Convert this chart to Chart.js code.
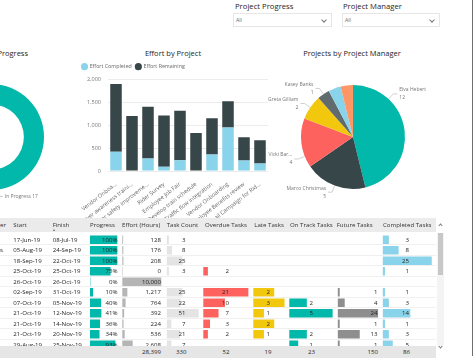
<!DOCTYPE html>
<html><head><meta charset="utf-8">
<script src="https://cdn.jsdelivr.net/npm/chart.js@4.4.1/dist/chart.umd.min.js"></script>
<style>
html,body{margin:0;padding:0;background:#fff;}
body{width:474px;height:362px;overflow:hidden;position:relative;font-family:"Open Sans",sans-serif;color:#252423;}
.t{position:absolute;white-space:nowrap;}
canvas{position:absolute;}
.box{position:absolute;border:1px solid #e6e6e6;background:#fff;box-sizing:border-box;}
.chev{position:absolute;width:3px;height:3px;border-right:1px solid #777;border-bottom:1px solid #777;transform:rotate(45deg);}
</style></head><body>
<canvas id="donut" width="140" height="132" style="left:-74px;top:72px;width:140px;height:132px"></canvas>
<canvas id="effort" width="196" height="180" style="left:78px;top:60px;width:196px;height:180px"></canvas>
<canvas id="pie" width="182" height="124" style="left:262px;top:78px;width:182px;height:124px"></canvas>
<script>
// ---------- DATA ----------
const progressStatus = ["In Progress"];
const progressProjects = [17];

const effortProjects = ["Vendor Onboa...", "Driver awareness traini...", "Rider safety improveme...", "Rider Survey", "Employee Job Fair", "Develop train schedule", "Traffic flow integration", "Vendor Onboarding", "Employee Benefits review", "Email Campaign for Rid..."];
const effortCompleted = [420, 0, 270, 95, 235, 0, 360, 950, 230, 165];
const effortRemaining = [1480, 1200, 1130, 1115, 1080, 830, 790, 570, 505, 505];
const effortTickStep = 500;
const effortMax = 2000;

const managerNames = ["Elva Hebert", "Marco Christmas", "Vicki Bar...", "Greta Gilliam", "Kasey Banks", "Other A", "Other B"];
const managerProjects = [12, 5, 4, 2, 1, 1, 1];

const startDates = ["17-Jun-19","05-Aug-19","18-Sep-19","25-Oct-19","26-Oct-19","02-Sep-19","07-Oct-19","21-Oct-19","21-Oct-19","21-Oct-19","29-Aug-19"];
const finishDates = ["08-Jul-19","24-Sep-19","22-Oct-19","25-Oct-19","26-Oct-19","31-Oct-19","05-Nov-19","12-Nov-19","14-Nov-19","20-Nov-19","25-Nov-19"];
const managerCol = ["", "s", "", "", "", "", "", "", "", "", ""];
const progressPct = [100,100,100,75,0,10,40,41,36,34,93];
const effortHours = [128,176,208,0,10000,1217,764,392,224,536,2608];
const taskCount = [3,8,25,3,null,25,22,51,7,21,7];
const overdueTasks = [null,null,null,2,null,21,10,7,3,2,null];
const lateTasks = [null,null,null,null,null,2,3,1,2,1,null];
const onTrackTasks = [null,null,null,null,null,null,2,5,null,2,1];
const futureTasks = [null,null,null,null,null,1,4,24,1,13,1];
const completedTasks = [3,8,25,1,null,1,3,14,1,3,5];
const tableHeaders = ["er","Start","Finish","Progress","Effort (Hours)","Task Count","Overdue Tasks","Late Tasks","On Track Tasks","Future Tasks","Completed Tasks"];
const totalValues = ["28,399","330","52","19","23","150","86"];

// ---------- STYLE ----------
const C = {teal:'#01B8AA', dark:'#374649', red:'#FD625E', yellow:'#F2C80F', gray:'#5F6B6D', lblue:'#8AD4EB', orange:'#FE9666'};
Chart.defaults.font.family = '"Open Sans", sans-serif';
Chart.defaults.animation = false;
Chart.defaults.devicePixelRatio = 1;

function txt(s, x, y, size, color, align, weight, z){
  const d = document.createElement('div'); d.className = 't'; d.textContent = s;
  d.style.fontSize = size + 'px'; d.style.lineHeight = '10px'; d.style.height = '10px';
  d.style.top = (y - 5) + 'px'; d.style.color = color;
  if (weight) d.style.fontWeight = weight;
  if (z) d.style.zIndex = z;
  if (align === 'right') { d.style.right = (474 - x) + 'px'; d.style.textAlign = 'right'; }
  else if (align === 'center') { d.style.left = (x - 100) + 'px'; d.style.width = '200px'; d.style.textAlign = 'center'; }
  else d.style.left = x + 'px';
  document.body.appendChild(d); return d;
}
function rect(x, y, w, h, bg, z, extra){
  const d = document.createElement('div'); d.style.position = 'absolute';
  d.style.left = x + 'px'; d.style.top = y + 'px'; d.style.width = w + 'px'; d.style.height = h + 'px';
  d.style.background = bg; if (z) d.style.zIndex = z; if (extra) Object.assign(d.style, extra);
  document.body.appendChild(d); return d;
}

// ---------- SLICERS ----------
txt("Project Progress", 235, 6, 7.7, '#252423', 'left');
txt("Project Manager", 343, 6, 7.7, '#252423', 'left');
[[233,99],[342,98]].forEach(([x,w])=>{
  const b = document.createElement('div'); b.className='box';
  Object.assign(b.style,{left:x+'px',top:'13px',width:w+'px',height:'14px'}); document.body.appendChild(b);
  txt("All", x+3, 20, 5.2, '#666', 'left');
  const c = document.createElement('div'); c.className='chev';
  Object.assign(c.style,{left:(x+w-10)+'px',top:'17.5px'}); document.body.appendChild(c);
});

// ---------- TITLES ----------
txt("Progress", 28, 53, 7.5, '#252423', 'right');
txt("Effort by Project", 173, 53, 7.5, '#252423', 'center');
txt("Projects by Project Manager", 352, 53, 7.5, '#252423', 'center');

// right border
rect(472, 0, 1, 356, '#6e6e6e');

// ---------- DONUT ----------
const donutLabel = {
  id:'donutLabel',
  afterDatasetsDraw(chart){
    const arc = chart.getDatasetMeta(0).data[0];
    const cx = arc.x, cy = arc.y, r = arc.outerRadius;
    const ctx = chart.ctx; ctx.save();
    const y = cy + r * 1.12;
    ctx.strokeStyle = '#aaa'; ctx.lineWidth = 0.7;
    ctx.beginPath(); ctx.moveTo(cx + r*0.1, y); ctx.lineTo(cx + r*0.22, y); ctx.stroke();
    ctx.font = '5px "Open Sans"'; ctx.fillStyle = '#777'; ctx.textBaseline = 'middle'; ctx.textAlign = 'left';
    ctx.fillText(chart.data.labels[0] + ' ' + chart.data.datasets[0].data[0], cx + r*0.26, y);
    ctx.restore();
  }
};
new Chart(document.getElementById('donut'), {
  type:'doughnut',
  data:{labels: progressStatus, datasets:[{data: progressProjects, backgroundColor:[C.teal], borderWidth:0}]},
  options:{responsive:false, cutout:'62%', layout:{padding:{left:12,right:22,top:12,bottom:14}},
    plugins:{legend:{display:false}, tooltip:{enabled:false}}},
  plugins:[donutLabel]
});

// ---------- EFFORT BY PROJECT ----------
new Chart(document.getElementById('effort'), {
  type:'bar',
  data:{labels: effortProjects, datasets:[
    {label:'Effort Completed', data: effortCompleted, backgroundColor: C.lblue},
    {label:'Effort Remaining', data: effortRemaining, backgroundColor: C.dark}]},
  options:{responsive:false,
    layout:{padding:{left:0,right:6,top:0,bottom:0}},
    datasets:{bar:{categoryPercentage:1, barPercentage:0.72, borderWidth:0}},
    plugins:{
      legend:{display:true, position:'top', align:'start',
        labels:{usePointStyle:true, pointStyle:'circle', boxWidth:5, boxHeight:5, padding:4, font:{size:5.3}, color:'#666'}},
      tooltip:{enabled:false}},
    scales:{
      x:{stacked:true, grid:{display:false}, border:{display:false},
        ticks:{font:{size:5.6}, color:'#666', maxRotation:38, minRotation:38, autoSkip:false, padding:2},
        afterFit(s){ s.height = 69; }},
      y:{stacked:true, min:0, max:effortMax,
        ticks:{stepSize:effortTickStep, font:{size:5.5}, color:'#777', padding:7, callback:v=>v.toLocaleString('en-US')},
        grid:{color:'#ececec', drawTicks:false}, border:{display:false},
        afterFit(s){ s.width = 30; }}
    }}
});

// ---------- PIE ----------
const pieLabels = {
  id:'pieLabels',
  afterDatasetsDraw(chart, args, opts){
    const meta = chart.getDatasetMeta(0); const ctx = chart.ctx;
    const vals = chart.data.datasets[0].data, names = chart.data.labels;
    ctx.save(); ctx.font = '5px "Open Sans"'; ctx.textBaseline = 'middle';
    meta.data.forEach((arc, i) => {
      const shift = opts.shifts[i]; if (shift === null || shift === undefined) return;
      const a = (arc.startAngle + arc.endAngle) / 2 + shift * Math.PI / 180;
      const r = arc.outerRadius, cx = arc.x, cy = arc.y;
      const x0 = cx + r*Math.cos(a), y0 = cy + r*Math.sin(a);
      const x1 = cx + (r+7)*Math.cos(a), y1 = cy + (r+7)*Math.sin(a);
      const side = Math.cos(a) >= 0 ? 1 : -1;
      const x2 = x1 + side*4;
      ctx.strokeStyle = '#b0b0b0'; ctx.lineWidth = 0.6;
      ctx.beginPath(); ctx.moveTo(x0,y0); ctx.lineTo(x1,y1); ctx.lineTo(x2,y1); ctx.stroke();
      ctx.fillStyle = '#777'; ctx.textAlign = side > 0 ? 'left' : 'right';
      const tx = x2 + side*2;
      ctx.fillText(names[i], tx, y1 - 4);
      ctx.fillText(String(vals[i]), tx, y1 + 4);
    });
    ctx.restore();
  }
};
new Chart(document.getElementById('pie'), {
  type:'pie',
  data:{labels: managerNames, datasets:[{data: managerProjects,
    backgroundColor:[C.teal, C.dark, C.red, C.yellow, C.gray, C.lblue, C.orange], borderWidth:0}]},
  options:{responsive:false, layout:{padding:{left:39,right:39,top:7,bottom:13}},
    plugins:{legend:{display:false}, tooltip:{enabled:false}, pieLabels:{shifts:[-40,0,-15,0,0,null,null]}}},
  plugins:[pieLabels]
});

// ---------- TABLE ----------
const ROW_TOP = 234.5, ROW_H = 10.5, NROWS = startDates.length;
rect(0, 218, 436, 14, '#ebebeb');
for (let k = 1; k <= NROWS; k++) rect(0, Math.round(ROW_TOP + ROW_H*k) - 1, 436, 1, '#f0f0f0');
const hdrX = [0, 13.3, 52.7, 90, 122, 166.7, 205, 254.3, 290, 336.7, 383];
tableHeaders.forEach((h, i) => txt(h, hdrX[i], 225, 6.1, '#333', 'left'));
rect(52.5, 228.5, 0, 0, 'transparent', null, {borderLeft:'1.5px solid transparent', borderRight:'1.5px solid transparent', borderBottom:'2px solid #666'});

for (let i = 0; i < NROWS; i++) {
  const y = ROW_TOP + ROW_H*(i + 0.5);
  if (managerCol[i]) txt(managerCol[i], 0, y, 6.1, '#252423', 'left');
  txt(startDates[i], 13.3, y, 6.1, '#252423', 'left');
  txt(finishDates[i], 52.7, y, 6.1, '#252423', 'left');
}

const cellText = {
  id:'cellText',
  afterDatasetsDraw(chart, args, opts){
    const meta = chart.getDatasetMeta(0), vals = chart.data.datasets[0].data, ctx = chart.ctx;
    ctx.save(); ctx.font = '6.1px "Open Sans"'; ctx.fillStyle = '#252423';
    ctx.textAlign = 'right'; ctx.textBaseline = 'middle';
    meta.data.forEach((bar, i) => { const v = vals[i]; if (v === null) return; ctx.fillText(opts.fmt(v), opts.textX, bar.y + 0.3); });
    ctx.restore();
  }
};
const fmtNum = v => v.toLocaleString('en-US');
const columns = [
  {data: progressPct, left: 90, width: 30, ppu: 0.27, textRight: 117.5, color: C.teal, fmt: v => v + '%'},
  {data: effortHours, left: 122.3, width: 41, ppu: 0.00387, textRight: 161, color: '#B5B5B5', fmt: fmtNum},
  {data: taskCount, left: 166.7, width: 34, ppu: 0.62, textRight: 185.5, color: '#E4E4E4', fmt: fmtNum},
  {data: overdueTasks, left: 203.3, width: 47, ppu: 2.13, textRight: 229, color: C.red, fmt: fmtNum},
  {data: lateTasks, left: 253.3, width: 34, ppu: 10.3, textRight: 270, color: C.yellow, fmt: fmtNum},
  {data: onTrackTasks, left: 289.3, width: 46, ppu: 8.6, textRight: 313, color: C.teal, fmt: fmtNum},
  {data: futureTasks, left: 337.7, width: 43, ppu: 1.67, textRight: 377.5, color: '#8E8E8E', fmt: fmtNum},
  {data: completedTasks, left: 382.7, width: 52, ppu: 1.95, textRight: 409, color: C.lblue, fmt: fmtNum}
];
columns.forEach((col) => {
  const cl = Math.floor(col.left), padL = col.left - cl;
  const cv = document.createElement('canvas');
  cv.width = col.width; cv.height = 116;
  Object.assign(cv.style, {left: cl + 'px', top: '234px', width: col.width + 'px', height: '116px'});
  document.body.appendChild(cv);
  const areaW = col.width - padL;
  new Chart(cv, {
    type:'bar',
    data:{labels: finishDates, datasets:[{data: col.data, backgroundColor: col.color, borderWidth:0, barThickness:7.6}]},
    options:{responsive:false, indexAxis:'y',
      layout:{padding:{left:padL, right:0, top:0.5, bottom:0}},
      plugins:{legend:{display:false}, tooltip:{enabled:false}, cellText:{textX: col.textRight - cl, fmt: col.fmt}},
      scales:{x:{display:false, min:0, max: areaW / col.ppu}, y:{display:false, offset:true}}},
    plugins:[cellText]
  });
});

// total row
rect(0, 346, 436, 11.5, '#e6e6e6', 3);
const totalRight = [161, 186.5, 229.5, 271.5, 315, 378, 410];
totalValues.forEach((v, i) => txt(v, totalRight[i], 352, 6.1, '#252423', 'right', null, 4));

// scrollbar
rect(436.5, 233, 7, 113, '#f4f4f4');
rect(437.5, 233, 5, 42, '#c8c8c8');
const up = document.createElement('div'); up.className='chev';
Object.assign(up.style,{left:'439px',top:'224px',transform:'rotate(225deg)',width:'2px',height:'2px'}); document.body.appendChild(up);
const dn = document.createElement('div'); dn.className='chev';
Object.assign(dn.style,{left:'439px',top:'345px',width:'2px',height:'2px',zIndex:5}); document.body.appendChild(dn);
</script>
</body></html>
